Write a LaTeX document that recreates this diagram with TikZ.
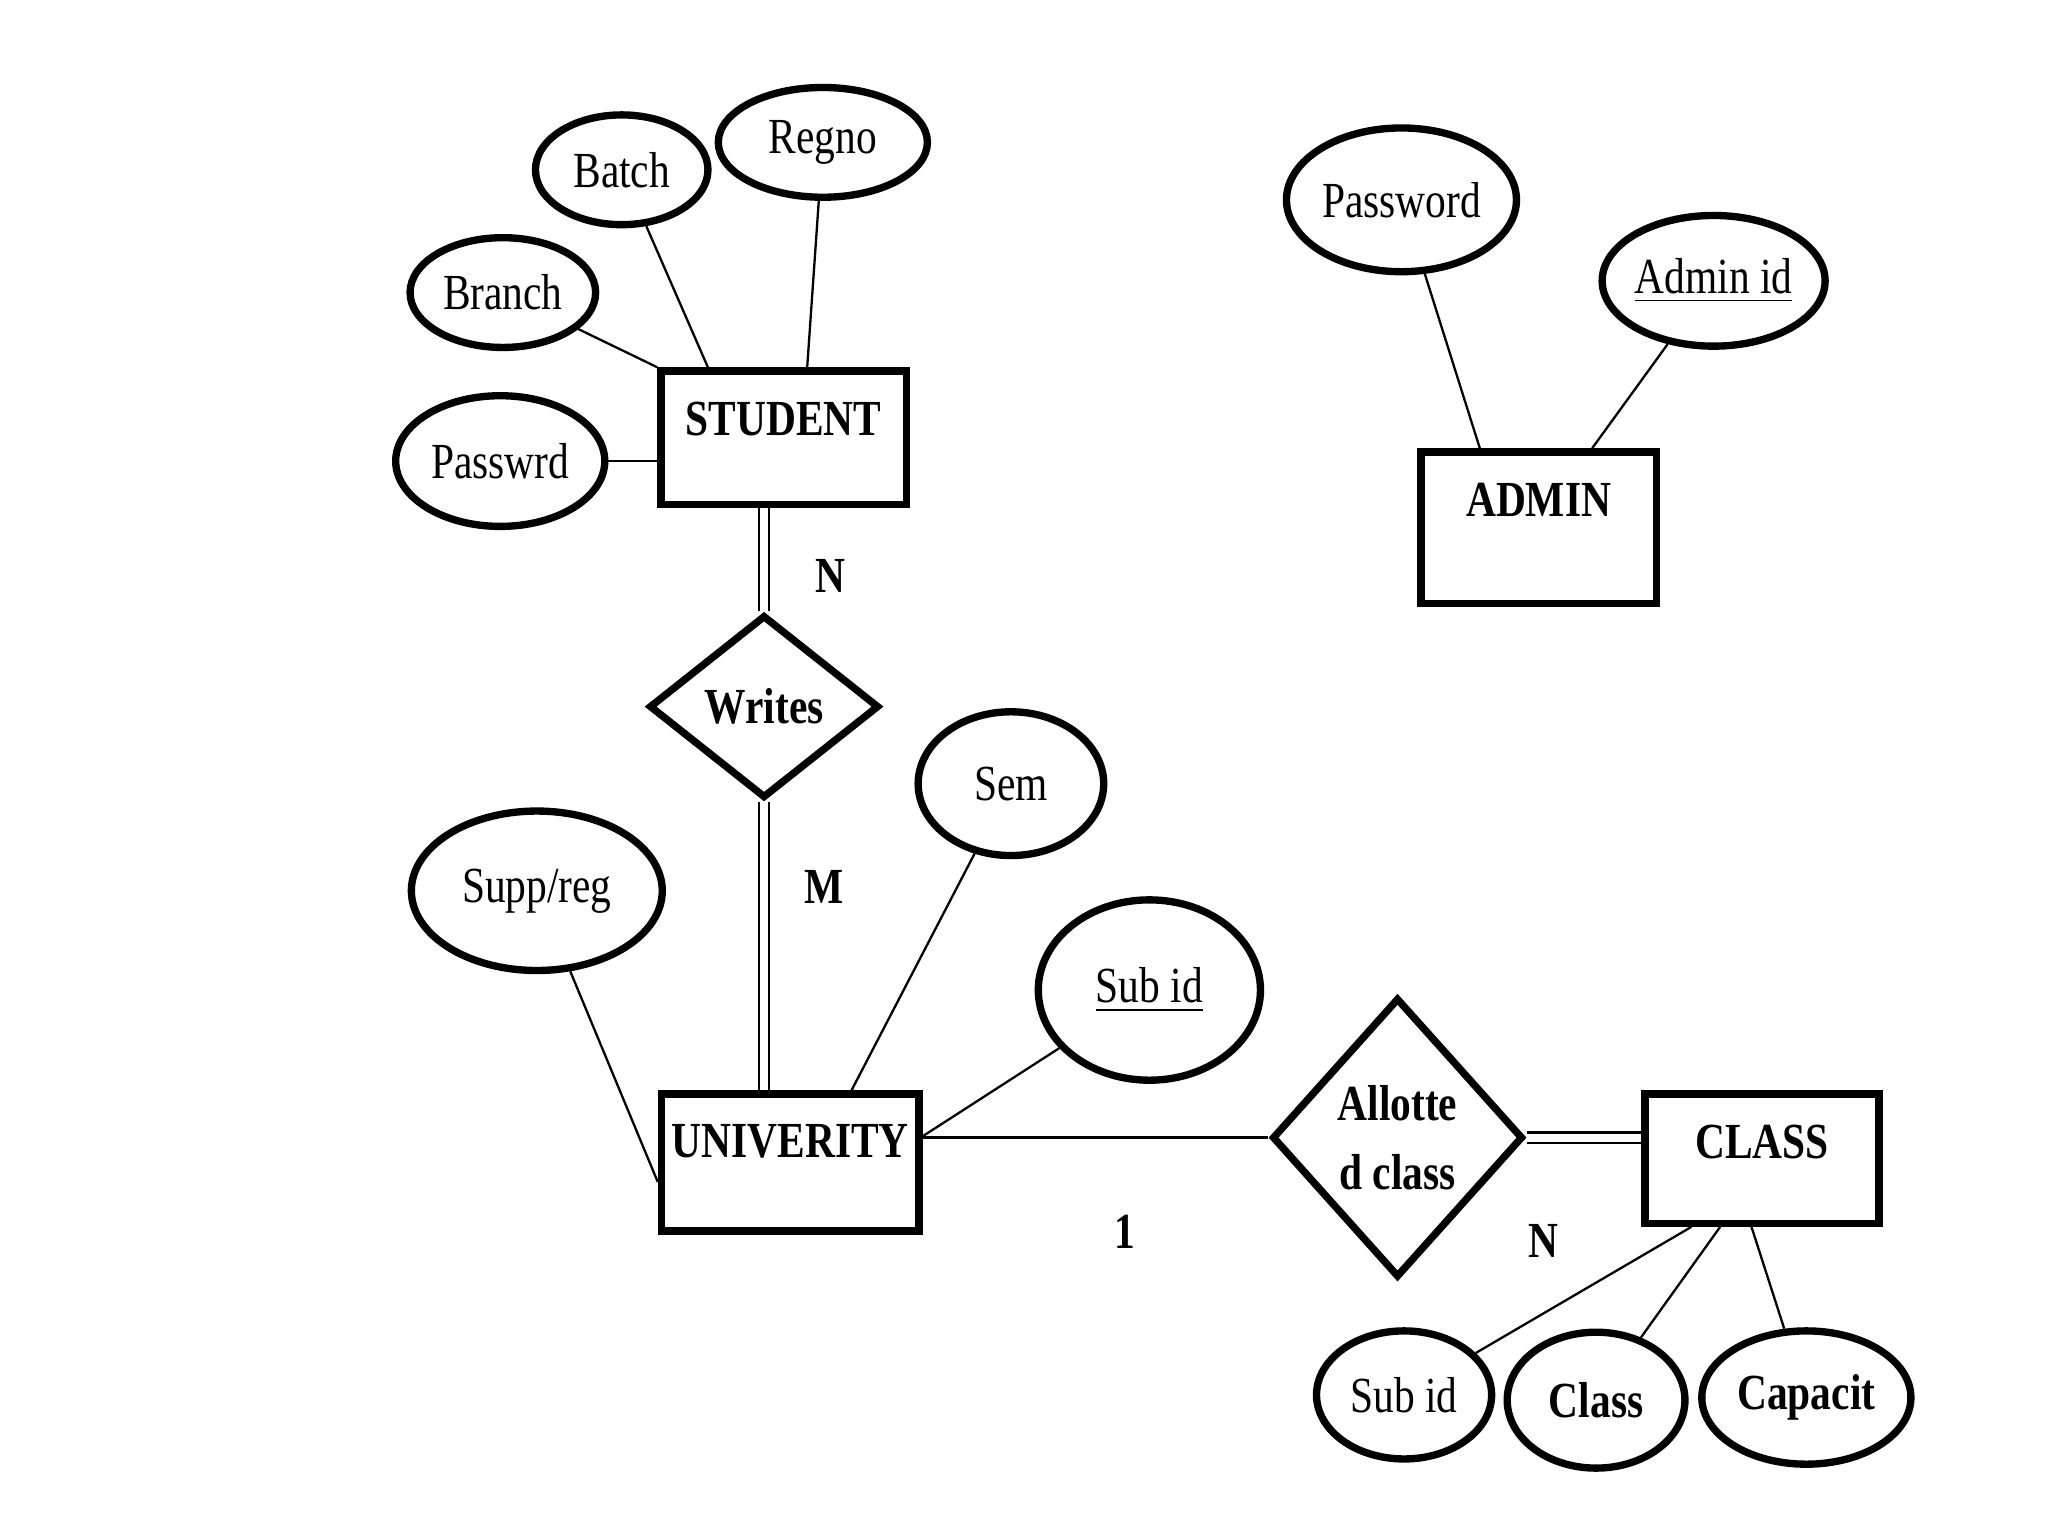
\documentclass[tikz,border=0pt]{standalone}
\usepackage{fontspec}
\setmainfont{Liberation Serif}[FakeStretch=0.82]
\usetikzlibrary{shapes.geometric}

\tikzset{
  attr/.style={draw, ellipse, line width=1.6pt, inner sep=0pt, font=\fontsize{11}{11}\selectfont},
  ent/.style={draw, rectangle, line width=1.6pt, inner sep=0pt,
    label={[anchor=north,yshift=-0.14cm,font=\bfseries\fontsize{11}{11}\selectfont]north:#1}},
  rel/.style={draw, diamond, line width=1.6pt, inner sep=0pt, font=\bfseries\fontsize{11}{15}\selectfont, align=center},
  card/.style={font=\bfseries\fontsize{11}{11}\selectfont},
  dbl/.style={double, double distance=0.06cm, line width=0.5pt},
  lnk/.style={line width=0.5pt}
}

\begin{document}
\begin{tikzpicture}[x=0.01cm, y=-0.01cm]
  \useasboundingbox (0,0) rectangle (1568,1176);
  % entities
  \node[ent=STUDENT, minimum width=1.88cm, minimum height=1.02cm] (student) at (600,335) {};
  \node[ent=ADMIN, minimum width=1.80cm, minimum height=1.16cm] (admin) at (1178,404) {};
  \node[ent=UNIVERITY, minimum width=1.97cm, minimum height=1.05cm] (univ) at (605,890) {};
  \node[ent=CLASS, minimum width=1.79cm, minimum height=0.99cm] (class) at (1349,887) {};
  % relationships
  \node[rel, minimum width=1.76cm, minimum height=1.40cm] (writes) at (585,541) {Writes};
  \node[rel, minimum width=1.92cm, minimum height=2.14cm] (allot) at (1070,871) {Allotte\\d class};
  % attributes
  \node[attr, minimum width=1.32cm, minimum height=0.84cm] (batch) at (476,130) {Batch};
  \node[attr, minimum width=1.60cm, minimum height=0.84cm] (regno) at (630,109) {Regno};
  \node[attr, minimum width=1.42cm, minimum height=0.84cm] (branch) at (385,224) {Branch};
  \node[attr, minimum width=1.60cm, minimum height=1.00cm] (passwrd) at (383,353) {Passwrd};
  \node[attr, minimum width=1.76cm, minimum height=1.10cm] (password) at (1073,153) {Password};
  \node[attr, minimum width=1.64cm, minimum height=1.00cm] (adminid) at (1312,215) {\underline{Admin id}};
  \node[attr, minimum width=1.42cm, minimum height=1.10cm] (sem) at (774,600) {Sem};
  \node[attr, minimum width=1.92cm, minimum height=1.22cm] (supp) at (411,682) {Supp/reg};
  \node[attr, minimum width=1.70cm, minimum height=1.38cm] (subid) at (880,758) {\underline{Sub id}};
  \node[attr, minimum width=1.34cm, minimum height=0.98cm] (csubid) at (1075,1068) {Sub id};
  \node[attr, minimum width=1.36cm, minimum height=1.04cm, font=\bfseries\fontsize{11}{11}\selectfont] (cclass) at (1222,1072) {Class};
  \node[attr, minimum width=1.60cm, minimum height=1.02cm, font=\bfseries\fontsize{11}{11}\selectfont] (capacit) at (1383,1070) {Capacit};
  % attribute links
  \draw[lnk] (branch) -- (student.north west);
  \draw[lnk] (batch) -- ([xshift=-0.58cm]student.north);
  \draw[lnk] (regno) -- ([xshift=0.18cm]student.north);
  \draw[lnk] (passwrd) -- (passwrd -| student.west);
  \draw[lnk] (password) -- ([xshift=-0.45cm]admin.north);
  \draw[lnk] (adminid) -- ([xshift=0.41cm]admin.north);
  \draw[lnk] (sem) -- ([xshift=0.47cm]univ.north);
  \draw[lnk] (supp) -- ([yshift=-0.15cm]univ.west);
  \draw[lnk] (subid) -- ([yshift=0.2cm]univ.east);
  \draw[lnk] ([xshift=-0.54cm]class.south) -- (csubid);
  \draw[lnk] ([xshift=-0.32cm]class.south) -- (cclass);
  \draw[lnk] ([xshift=-0.08cm]class.south) -- (capacit);
  % relationship links
  \draw[dbl] (student.south -| writes.north) -- (writes.north);
  \draw[dbl] (writes.south) -- (writes.south |- univ.north);
  \draw[lnk] (allot.west -| univ.east) -- (allot.west);
  \draw[dbl] (allot.east) -- (allot.east -| class.west);
  % cardinalities
  \node[card] (cn1) at (636,441) {N};
  \node[card] (cm) at (631,679) {M};
  \node[card] (c1) at (861,943) {1};
  \node[card] (cn2) at (1182,950) {N};
\end{tikzpicture}
\end{document}
